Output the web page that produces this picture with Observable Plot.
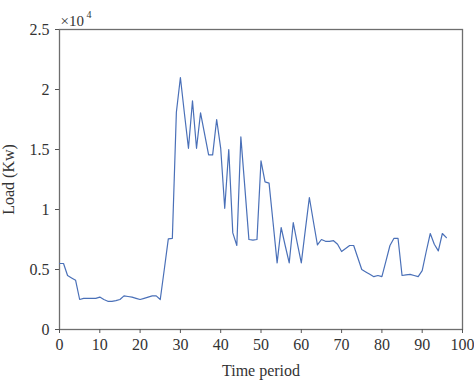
<!DOCTYPE html>
<html>
<head>
<meta charset="utf-8">
<script src="https://cdn.jsdelivr.net/npm/d3@7"></script>
<script src="https://cdn.jsdelivr.net/npm/@observablehq/plot@0.6"></script>
<style>
  html, body { margin: 0; padding: 0; background: #fff; }
</style>
</head>
<body>
<div id="chart"></div>
<script>
// Time period (x) and load in units of 10^4 kW (y)
const period = d3.range(0, 97);
const load = [
  0.55, 0.55, 0.45, 0.43, 0.41, 0.25, 0.26, 0.26, 0.26, 0.26,
  0.27, 0.25, 0.235, 0.235, 0.24, 0.25, 0.28, 0.275, 0.27, 0.26,
  0.25, 0.26, 0.27, 0.28, 0.28, 0.25, 0.50, 0.755, 0.76, 1.81,
  2.10, 1.80, 1.51, 1.905, 1.51, 1.805, 1.63, 1.455, 1.455, 1.75,
  1.51, 1.01, 1.50, 0.805, 0.70, 1.605, 1.18, 0.75, 0.745, 0.75,
  1.405, 1.23, 1.22, 0.89, 0.555, 0.85, 0.70, 0.555, 0.89, 0.72,
  0.555, 0.83, 1.10, 0.90, 0.705, 0.75, 0.735, 0.735, 0.74, 0.71,
  0.65, 0.675, 0.70, 0.70, 0.60, 0.50, 0.48, 0.46, 0.44, 0.45,
  0.44, 0.57, 0.70, 0.76, 0.76, 0.45, 0.455, 0.46, 0.45, 0.44,
  0.49, 0.65, 0.80, 0.71, 0.655, 0.80, 0.765
];
const xTicks = [0, 10, 20, 30, 40, 50, 60, 70, 80, 90, 100];
const yTicks = [0, 0.5, 1, 1.5, 2, 2.5];
const xLabel = "Time period";
const yLabel = "Load (Kw)";
const scaleBase = "×10";
const scaleExp = "4";

const data = period.map((p, i) => ({period: p, load: load[i]}));

const chart = Plot.plot({
  width: 474,
  height: 383,
  marginLeft: 59,
  marginRight: 12,
  marginTop: 29,
  marginBottom: 54,
  style: {fontFamily: "'Liberation Serif', 'DejaVu Serif', serif", fontSize: "16px", color: "#333", background: "#fff"},
  x: {domain: [0, 100]},
  y: {domain: [0, 2.5]},
  marks: [
    Plot.frame({stroke: "#6e6e6e", strokeWidth: 1.3}),
    Plot.axisX({ticks: xTicks, tickSize: 4, tickPadding: 5, stroke: "#555", label: xLabel, labelAnchor: "center", labelArrow: "none", labelOffset: 46, fontSize: 16}),
    Plot.axisY({ticks: yTicks, tickSize: 4, tickPadding: 6, stroke: "#555", tickFormat: d => String(d), label: yLabel, labelAnchor: "center", labelArrow: "none", labelOffset: 57, fontSize: 16}),
    Plot.text([scaleBase], {text: d => d, frameAnchor: "top-left", dx: 1, dy: -14, textAnchor: "start", fontSize: 15}),
    Plot.text([scaleExp], {text: d => d, frameAnchor: "top-left", dx: 27, dy: -19, textAnchor: "start", fontSize: 10}),
    Plot.line(data, {x: "period", y: "load", stroke: "#4a70b8", strokeWidth: 1.2})
  ]
});
document.getElementById("chart").appendChild(chart);
</script>
</body>
</html>
